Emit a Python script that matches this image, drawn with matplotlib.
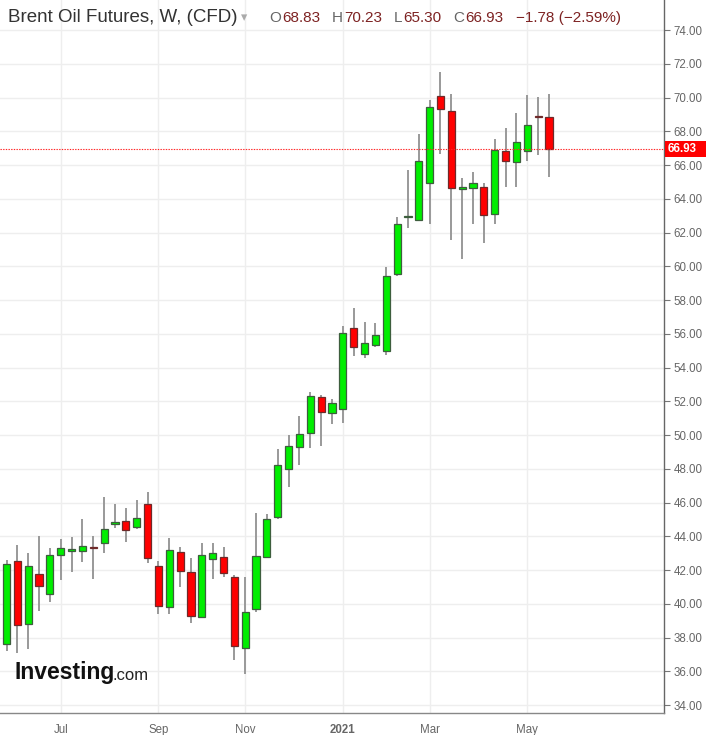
import matplotlib
matplotlib.use("Agg")
import matplotlib.pyplot as plt
import matplotlib.transforms as mtransforms
from matplotlib.patches import Rectangle
import numpy as np
import pandas as pd

# ---------------- data ----------------
week_start = "2020-06-01"
n_weeks = 51
opens = [37.60, 42.51, 38.82, 41.76, 40.60, 42.87, 43.15, 43.13, 43.38, 43.58,
         44.71, 44.90, 44.57, 45.89, 42.24, 39.79, 43.09, 41.90, 39.21, 42.67,
         42.75, 41.59, 37.38, 39.67, 42.75, 45.16, 47.97, 49.27, 50.12, 52.27,
         51.28, 51.54, 56.34, 54.82, 55.33, 55.00, 59.52, 62.90, 62.76, 64.93,
         70.11, 69.18, 64.60, 64.65, 64.68, 63.11, 66.83, 66.18, 66.81, 68.90,
         68.83]
highs = [42.57, 43.48, 42.99, 44.01, 43.28, 43.82, 43.94, 45.00, 44.01, 46.31,
         45.91, 45.65, 46.15, 46.62, 42.51, 43.88, 43.34, 42.71, 43.62, 43.58,
         43.34, 41.69, 41.60, 45.36, 45.30, 49.15, 50.00, 51.11, 52.55, 52.37,
         52.12, 56.46, 57.53, 56.72, 56.66, 59.94, 62.94, 65.70, 67.84, 69.85,
         71.49, 70.21, 65.23, 65.60, 64.95, 67.52, 68.21, 69.06, 70.13, 70.05,
         70.23]
lows = [37.22, 37.10, 37.30, 39.57, 40.08, 41.41, 41.86, 42.46, 41.47, 42.99,
        44.47, 43.68, 44.43, 42.40, 39.39, 39.39, 41.01, 38.88, 39.15, 41.47,
        41.57, 36.70, 35.82, 39.53, 42.70, 45.00, 46.90, 48.20, 49.23, 49.33,
        50.63, 50.69, 54.70, 54.58, 55.21, 54.72, 59.45, 62.25, 62.70, 62.49,
        66.67, 61.56, 60.41, 62.49, 61.38, 62.52, 64.72, 64.72, 66.22, 66.61,
        65.30]
closes = [42.36, 38.74, 42.22, 41.03, 42.87, 43.28, 43.25, 43.42, 43.28, 44.45,
          44.84, 44.37, 45.10, 42.73, 39.85, 43.20, 41.96, 39.27, 42.87, 43.03,
          41.82, 37.51, 39.49, 42.81, 45.04, 48.22, 49.33, 50.06, 52.33, 51.36,
          51.88, 56.06, 55.21, 55.45, 55.93, 59.44, 62.50, 63.00, 66.26, 69.44,
          69.30, 64.62, 64.68, 64.95, 63.02, 66.89, 66.26, 67.34, 68.39, 68.83,
          66.93]
month_labels = ["Jul", "Sep", "Nov", "2021", "Mar", "May"]
month_keys = ["2020-07", "2020-09", "2020-11", "2021-01", "2021-03", "2021-05"]
y_ticks = [34, 36, 38, 40, 42, 44, 46, 48, 50, 52, 54, 56, 58, 60, 62, 64, 66, 68, 70, 72, 74]
title = "Brent Oil Futures, W, (CFD)"
last_change = "\u22121.78 (\u22122.59%)"

# ---------------- figure ----------------
W, H = 709, 735
fig = plt.figure(figsize=(W / 100, H / 100), dpi=100)
fig.patch.set_facecolor("white")
ax = fig.add_axes([0, 22 / H, 664 / W, 1 - 22 / H])
ax.set_facecolor("white")

dates = pd.date_range(week_start, periods=n_weeks, freq="W-MON")
x = np.arange(n_weeks)

o = np.array(opens); h = np.array(highs); l = np.array(lows); c = np.array(closes)
up = c >= o

GREEN = "#00ee00"
RED = "#ff0000"
EDGE_G = "#3d5e3d"
EDGE_R = "#6e2a2a"

ax.vlines(x, l, h, colors="#999999", linewidth=1.4, zorder=2)
bottoms = np.minimum(o, c)
heights = np.maximum(np.abs(c - o), 0.06)
ax.bar(x[up], heights[up], bottom=bottoms[up], width=0.66, color=GREEN,
       edgecolor=EDGE_G, linewidth=0.9, zorder=3)
ax.bar(x[~up], heights[~up], bottom=bottoms[~up], width=0.66, color=RED,
       edgecolor=EDGE_R, linewidth=0.9, zorder=3)

# month ticks: first week starting in the given month
tick_pos = [int(np.argmax(dates.strftime("%Y-%m") == k)) for k in month_keys]

ax.set_xlim(-0.6, 60.6)
ax.set_ylim(33.53, 75.78)

ax.set_yticks(y_ticks)
ax.set_yticklabels([f"{v:.2f}" for v in y_ticks])
ax.yaxis.tick_right()
ax.set_xticks(tick_pos)
ax.set_xticklabels(month_labels)
for lbl in ax.get_xticklabels():
    if lbl.get_text() == "2021":
        lbl.set_fontweight("bold")
        lbl.set_color("#444444")

ax.tick_params(axis="y", which="both", length=4, width=0.8, color="#777777",
               labelsize=8.3, labelcolor="#666666", pad=3)
ax.tick_params(axis="x", which="both", length=0, labelsize=8.3,
               labelcolor="#666666", pad=8)
for lbl in ax.get_xticklabels() + ax.get_yticklabels():
    lbl.set_family(["Liberation Sans", "DejaVu Sans"])

ax.grid(True, color="#eeeeee", linewidth=1.0, zorder=0)
ax.set_axisbelow(True)

for s in ["top", "left"]:
    ax.spines[s].set_visible(False)
ax.spines["right"].set_color("#666666")
ax.spines["right"].set_linewidth(1.0)
ax.spines["bottom"].set_color("#888888")
ax.spines["bottom"].set_linewidth(1.0)

# last price line and label
last = closes[-1]
ax.axhline(last, color="#ff2020", linestyle=(0, (1.2, 1.2)), linewidth=0.8, zorder=4)
blend = mtransforms.blended_transform_factory(fig.transFigure, ax.transData)
ax.add_patch(Rectangle((665 / W, last - 0.47), 41 / W, 0.94, transform=blend,
                       facecolor="#ff0000", edgecolor="none", clip_on=False, zorder=5))
ax.text(668 / W, last, f"{last:.2f}", transform=blend, color="white",
        fontsize=8.3, fontweight="bold", va="center", ha="left", zorder=6,
        family=["Liberation Sans", "DejaVu Sans"], clip_on=False)

# title line
fy = lambda yy: 1 - yy / H
fx = lambda xx: xx / W
FAM = ["Liberation Sans", "DejaVu Sans"]
fig.text(fx(8), fy(18), title, fontsize=13.5, color="#333333", va="center", ha="left",
         family=FAM)
fig.text(fx(241), fy(18), "\u25be", fontsize=9, color="#aaaaaa", va="center", ha="left",
         family=["DejaVu Sans"])
NUMC = "#7d2222"
LETC = "#666666"
pieces = [("O", LETC, 0), (f"{opens[-1]:.2f}", NUMC, 11),
          ("H", LETC, 0), (f"{highs[-1]:.2f}", NUMC, 11),
          ("L", LETC, 0), (f"{lows[-1]:.2f}", NUMC, 11),
          ("C", LETC, 0), (f"{closes[-1]:.2f}", NUMC, 11),
          (last_change, NUMC, 0)]
renderer = fig.canvas.get_renderer()
cur = 269
for txt, col, gap_after in pieces:
    t = fig.text(fx(cur), fy(18), txt, fontsize=11, color=col, va="center", ha="left",
                 family=FAM)
    bb = t.get_window_extent(renderer=renderer)
    cur = bb.x1 + 1 + gap_after

# watermark logo
fig.text(fx(14), fy(673), "Investing", fontsize=16.5, fontweight="bold", color="#111111",
         va="center", ha="left", family=FAM)
fig.text(fx(113), fy(675), ".com", fontsize=12, color="#222222",
         va="center", ha="left", family=FAM)

fig.savefig("out.png", dpi=100, facecolor="white")
